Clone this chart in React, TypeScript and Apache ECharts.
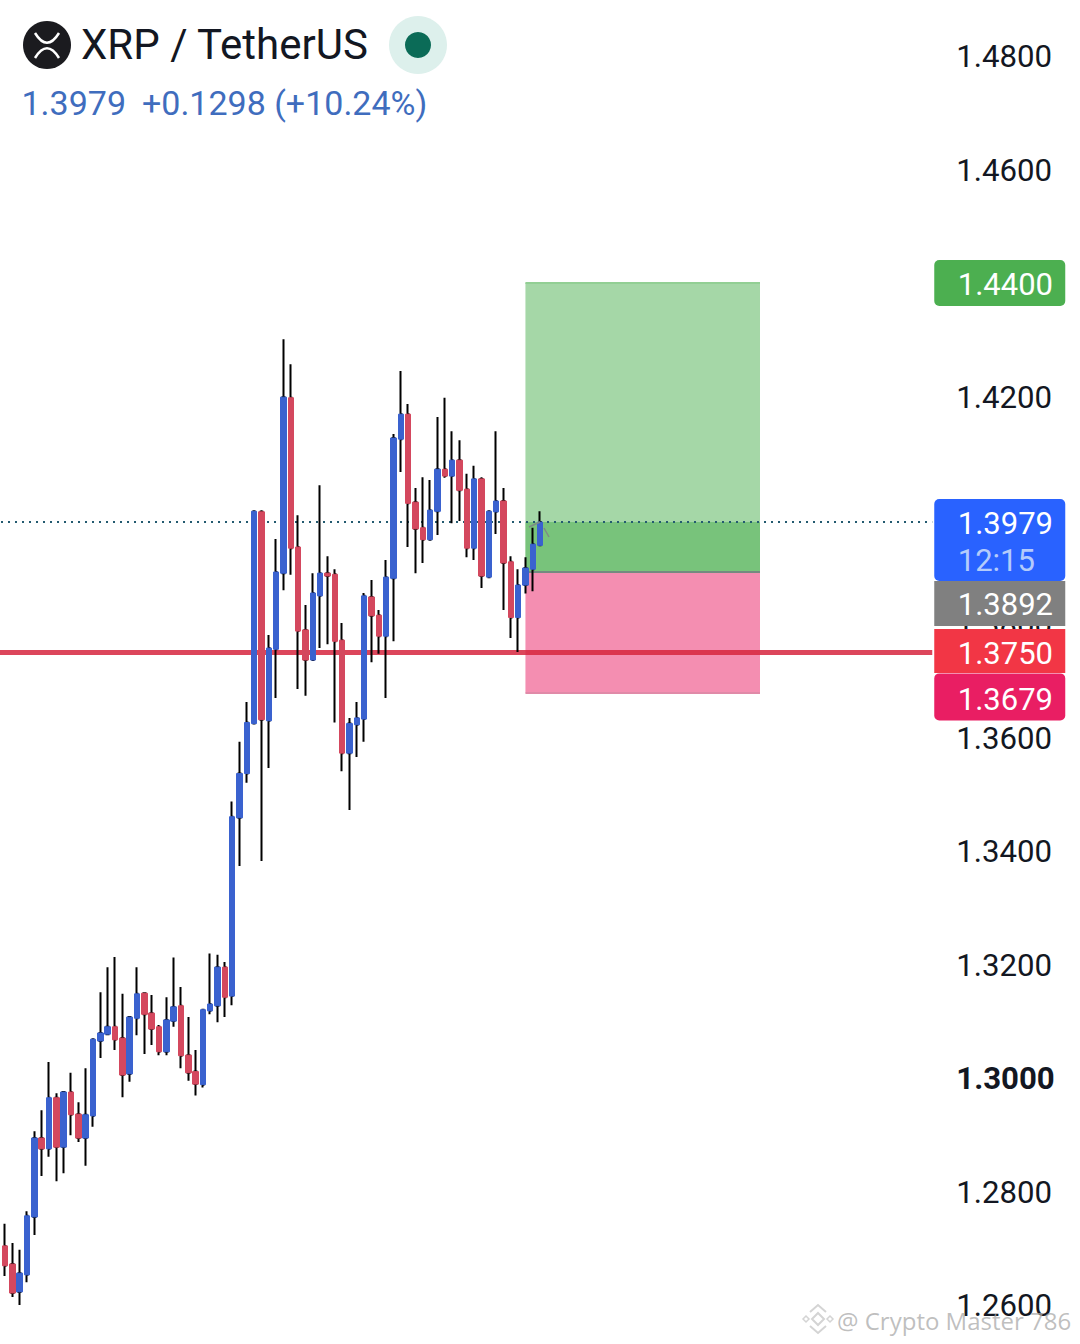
import React, { useEffect, useRef } from "react";
import * as echarts from "echarts";

// [open, close, low, high]
const candles: number[][] = [
  [1.2704, 1.2669, 1.2651, 1.2743], [1.2672, 1.2621, 1.2614, 1.2709], [1.2623, 1.2656, 1.26, 1.2697], [1.2653, 1.2757, 1.264, 1.2765],
  [1.2755, 1.2894, 1.2723, 1.2906], [1.2894, 1.2875, 1.2827, 1.2943], [1.2875, 1.2965, 1.2861, 1.3028], [1.2965, 1.2878, 1.2818, 1.2973],
  [1.2878, 1.2975, 1.2832, 1.2975], [1.2975, 1.2935, 1.2899, 1.3009], [1.2936, 1.2894, 1.2887, 1.2957], [1.2894, 1.2935, 1.2845, 1.3017],
  [1.2933, 1.3068, 1.2914, 1.3068], [1.3065, 1.3079, 1.3035, 1.3151], [1.3077, 1.309, 1.3077, 1.3195], [1.309, 1.3067, 1.3049, 1.3213],
  [1.307, 1.3005, 1.2966, 1.3148], [1.3007, 1.3107, 1.2993, 1.3109], [1.3105, 1.3148, 1.3075, 1.3195], [1.3149, 1.3112, 1.3042, 1.3149],
  [1.3114, 1.3086, 1.3058, 1.3146], [1.309, 1.3046, 1.304, 1.3093], [1.3046, 1.3102, 1.304, 1.3142], [1.31, 1.3125, 1.309, 1.3212],
  [1.3127, 1.3039, 1.3017, 1.316], [1.304, 1.3009, 1.2995, 1.3107], [1.3011, 1.2989, 1.2969, 1.3049], [1.2988, 1.312, 1.2983, 1.312],
  [1.3118, 1.313, 1.3112, 1.3219], [1.3127, 1.3195, 1.3098, 1.3217], [1.3195, 1.3142, 1.3107, 1.3204], [1.3144, 1.346, 1.3128, 1.3487],
  [1.3458, 1.3536, 1.3373, 1.3592], [1.3536, 1.3626, 1.352, 1.3662], [1.3624, 1.3998, 1.3624, 1.4], [1.3997, 1.3631, 1.3382, 1.4],
  [1.3629, 1.3757, 1.3546, 1.378], [1.3755, 1.3891, 1.3669, 1.3949], [1.3889, 1.4199, 1.3859, 1.4301], [1.4198, 1.3933, 1.3886, 1.4257],
  [1.3935, 1.3787, 1.3685, 1.3991], [1.3789, 1.3736, 1.3673, 1.3833], [1.3736, 1.3854, 1.3736, 1.3889], [1.3849, 1.3889, 1.3757, 1.4044],
  [1.3889, 1.3884, 1.3764, 1.3919], [1.3887, 1.3769, 1.3626, 1.3896], [1.3771, 1.3572, 1.354, 1.3801], [1.3572, 1.3624, 1.3472, 1.3634],
  [1.3622, 1.3634, 1.3565, 1.3662], [1.3632, 1.3849, 1.3592, 1.3854], [1.3847, 1.3814, 1.3732, 1.3877], [1.3815, 1.3778, 1.3747, 1.3824],
  [1.3778, 1.3882, 1.3669, 1.3912], [1.388, 1.4127, 1.3769, 1.4134], [1.4125, 1.4169, 1.4067, 1.4245], [1.4169, 1.4012, 1.3935, 1.4187],
  [1.4014, 1.3967, 1.3889, 1.4039], [1.3969, 1.3948, 1.3907, 1.4058], [1.3948, 1.4, 1.3946, 1.4053], [1.3998, 1.4072, 1.3956, 1.4164],
  [1.4072, 1.406, 1.4057, 1.4198], [1.406, 1.4088, 1.3977, 1.4139], [1.4088, 1.4035, 1.3981, 1.4123], [1.4037, 1.3933, 1.3917, 1.4064],
  [1.3933, 1.4055, 1.3912, 1.4078], [1.4055, 1.3884, 1.3863, 1.4058], [1.3882, 1.3998, 1.3882, 1.4], [1.3997, 1.4016, 1.3958, 1.4139],
  [1.4016, 1.3907, 1.3824, 1.4039], [1.3909, 1.3811, 1.3775, 1.3919], [1.3811, 1.3868, 1.375, 1.3896], [1.3868, 1.3898, 1.3853, 1.3917],
  [1.3896, 1.394, 1.3857, 1.3969], [1.3938, 1.3979, 1.3938, 1.3998],
];

// 1.4400 and 1.4000 sit fully behind the price tags in the reference, so only the visible ones are listed.
const tickLabels = ["1.4800", "1.4600", "1.4200", "1.3800", "1.3600", "1.3400", "1.3200", "1.3000", "1.2800", "1.2600"];
const boldTick = "1.3000";

const lastPrice = 1.3979;
const targetPrice = 1.44;
const entryPrice = 1.3892;
const stopPrice = 1.3679;
const supportPrice = 1.375;

const tagPrices = [targetPrice, lastPrice, entryPrice, supportPrice, stopPrice];
const tagTexts = ["1.4400", "1.3979", "1.3892", "1.3750", "1.3679"];
const tagColors = ["#4CAF50", "#2962FF", "#808080", "#F23645", "#E91E63"];
const countdown = "12:15";

const symbolName = "XRP / TetherUS";
const quotePrice = "1.3979";
const quoteChange = "+0.1298 (+10.24%)";
const watermark = "@ Crypto Master 786";

const BLUE = "#3A62CF";
const RED = "#D4485E";
const FONT = "Roboto";
const SLOTS = 128;
const LEAD = 1;
const BOX_START = 71 + LEAD;
const BOX_END = 103 + LEAD;

// per tag: vertical offset from its price, height, extra text shift
const tagLayout = [
  [0, 46, 0], [37, 82, 0], [32, 45, 0], [-1, 44, 1], [4.5, 47, 1.5],
];

const categories = Array.from({ length: SLOTS }, (_, i) => String(i));
const blank = ["-", "-", "-", "-"];
const padded = (rows: any[]) => [...Array.from({ length: LEAD }, () => blank), ...rows];

function buildOption() {
  return {
    animation: false,
    backgroundColor: "#ffffff",
    title: {
      text: symbolName,
      left: 76,
      top: 18,
      textStyle: { fontFamily: FONT, fontSize: 42, fontWeight: 400, color: "#131722" },
    },
    grid: { left: -5.99, top: 0, width: 938.24, height: 1344, outerBoundsMode: "none", containLabel: false },
    xAxis: {
      type: "category",
      data: categories,
      show: false,
      boundaryGap: true,
    },
    yAxis: {
      type: "value",
      position: "right",
      min: 1.25312,
      max: 1.48986,
      axisLine: { show: false },
      axisTick: { show: false },
      splitLine: { show: false },
      axisLabel: {
        customValues: tickLabels.map(Number),
        margin: 24,
        align: "left",
        color: "#131722",
        fontFamily: FONT,
        fontSize: 31.2,
        lineHeight: 33,
        padding: [2, 0, 0, 0],
        formatter: (v: number) => {
          const s = Number(v).toFixed(4);
          return s === boldTick ? `{b|${s}}` : s;
        },
        rich: { b: { fontFamily: FONT, fontSize: 31.2, lineHeight: 33, fontWeight: 700, color: "#131722" } },
      },
    },
    series: [
      {
        name: "wicks",
        type: "candlestick",
        z: 3,
        barWidth: 2,
        silent: true,
        itemStyle: { color: "#000", color0: "#000", borderColor: "#000", borderColor0: "#000", borderWidth: 2 },
        data: padded(candles),
        markArea: {
          silent: true,
          z: 1,
          label: { show: false },
          data: [
            [{ xAxis: BOX_START, yAxis: targetPrice, itemStyle: { color: "rgba(76,175,80,0.5)" } }, { xAxis: BOX_END, yAxis: entryPrice }],
            [{ xAxis: BOX_START, yAxis: lastPrice, itemStyle: { color: "rgba(76,175,80,0.5)" } }, { xAxis: BOX_END, yAxis: entryPrice }],
            [{ xAxis: BOX_START, yAxis: entryPrice, itemStyle: { color: "rgba(233,30,99,0.5)" } }, { xAxis: BOX_END, yAxis: stopPrice }],
          ],
        },
        markLine: {
          silent: true,
          z: 2,
          symbol: "none",
          precision: 4,
          label: { show: false },
          data: [
            { yAxis: supportPrice, lineStyle: { color: "rgba(214,38,62,0.85)", width: 5, type: "solid" } },
            { yAxis: lastPrice, lineStyle: { color: "#235a70", width: 2, type: [2, 5] } },
            [
              { xAxis: BOX_START, yAxis: entryPrice, lineStyle: { color: "#748a80", width: 2, type: "solid" } },
              { xAxis: BOX_END, yAxis: entryPrice },
            ],
            [
              { xAxis: BOX_START, yAxis: targetPrice, lineStyle: { color: "#92cf94", width: 2, type: "solid" } },
              { xAxis: BOX_END, yAxis: targetPrice },
            ],
            [
              { xAxis: BOX_START, yAxis: stopPrice, lineStyle: { color: "#e08aa8", width: 2, type: "solid" } },
              { xAxis: BOX_END, yAxis: stopPrice },
            ],
          ],
        },
      },
      {
        name: "bodies",
        type: "candlestick",
        z: 4,
        barWidth: 6,
        silent: true,
        itemStyle: { color: BLUE, color0: RED, borderColor: BLUE, borderColor0: RED, borderWidth: 1 },
        data: padded(
          candles.map(([o, c]) => [o, c, Math.min(o, c), Math.max(o, c)])
        ),
      },
      {
        name: "tags",
        type: "custom",
        z: 6,
        silent: true,
        clip: false,
        data: tagPrices.map((p) => [0, p]),
        renderItem: (params: any, api: any) => {
          const i = params.dataIndex;
          const cs = params.coordSys;
          const y = api.coord([0, api.value(1)])[1];
          const [offset, h, shift] = tagLayout[i];
          const left = cs.x + cs.width + 2;
          const textX = left + 23.5;
          const top = i === 1 ? y - 23 : y + offset - h / 2;
          const first = (i === 1 ? y : y + offset) + 1 + shift;
          const children: any[] = [
            {
              type: "rect",
              shape: { x: left, y: top, width: 131, height: h, r: i === 3 || i === 2 ? 0 : 5 },
              style: { fill: tagColors[i] },
            },
            {
              type: "text",
              style: {
                x: textX,
                y: first,
                text: tagTexts[i],
                fill: "#ffffff",
                fontFamily: FONT,
                fontSize: 31,
                textAlign: "left",
                textVerticalAlign: "middle",
              },
            },
          ];
          if (i === 1) {
            children.push({
              type: "text",
              style: {
                x: textX,
                y: y + 38,
                text: countdown,
                fill: "#B4CBFB",
                fontFamily: FONT,
                fontSize: 31,
                textAlign: "left",
                textVerticalAlign: "middle",
              },
            });
          }
          return { type: "group", children };
        },
      },
    ],
    graphic: [
      { type: "circle", z: 10, shape: { cx: 47, cy: 45, r: 24 }, style: { fill: "#1B1B1F" } },
      { type: "bezierCurve", z: 11, shape: { x1: 35, y1: 33, x2: 59, y2: 33, cpx1: 43, cpy1: 46, cpx2: 51, cpy2: 46 }, style: { stroke: "#fff", lineWidth: 2.5, fill: "none" } },
      { type: "bezierCurve", z: 11, shape: { x1: 35, y1: 58, x2: 59, y2: 58, cpx1: 43, cpy1: 45, cpx2: 51, cpy2: 45 }, style: { stroke: "#fff", lineWidth: 2.5, fill: "none" } },
      { type: "circle", z: 10, shape: { cx: 418, cy: 45, r: 29 }, style: { fill: "#DDF0EC" } },
      { type: "circle", z: 11, shape: { cx: 418, cy: 45, r: 13 }, style: { fill: "#0B6B57" } },
      {
        type: "text", z: 10, x: 21.5, y: 103,
        style: { text: quotePrice, fill: "#3F6DBE", fontFamily: FONT, fontSize: 34, textVerticalAlign: "middle" },
      },
      {
        type: "text", z: 10, x: 142, y: 103,
        style: { text: quoteChange, fill: "#3F6DBE", fontFamily: FONT, fontSize: 34, textVerticalAlign: "middle" },
      },
      { type: "polyline", z: 10, shape: { points: [[529, 527], [540, 522]] }, style: { stroke: "#7d8a86", lineWidth: 1.5, fill: "none" } },
      { type: "polyline", z: 10, shape: { points: [[544, 528], [549, 537]] }, style: { stroke: "#7d8a86", lineWidth: 1.5, fill: "none" } },
      { type: "polygon", z: 20, shape: { points: [[818, 1313], [824, 1319], [818, 1325], [812, 1319]] }, style: { fill: "none", stroke: "#d4d4d4", lineWidth: 2 } },
      { type: "polyline", z: 20, shape: { points: [[810, 1312], [818, 1305], [826, 1312]] }, style: { fill: "none", stroke: "#d4d4d4", lineWidth: 2 } },
      { type: "polyline", z: 20, shape: { points: [[810, 1326], [818, 1333], [826, 1326]] }, style: { fill: "none", stroke: "#d4d4d4", lineWidth: 2 } },
      { type: "polygon", z: 20, shape: { points: [[806, 1316], [809, 1319], [806, 1322], [803, 1319]] }, style: { fill: "none", stroke: "#d4d4d4", lineWidth: 1.5 } },
      { type: "polygon", z: 20, shape: { points: [[830, 1316], [833, 1319], [830, 1322], [827, 1319]] }, style: { fill: "none", stroke: "#d4d4d4", lineWidth: 1.5 } },
      {
        type: "text", z: 20, x: 837, y: 1320,
        style: { text: watermark, fill: "rgba(170,170,170,0.75)", fontFamily: "Open Sans", fontSize: 24, textVerticalAlign: "middle" },
      },
    ],
  };
}

export default function App() {
  const ref = useRef<HTMLDivElement>(null);
  useEffect(() => {
    document.body.style.margin = "0";
    const chart = echarts.init(ref.current!, undefined, { renderer: "svg" });
    chart.setOption(buildOption() as any);
    return () => chart.dispose();
  }, []);
  return <div ref={ref} style={{ width: 1080, height: 1344 }} />;
}
